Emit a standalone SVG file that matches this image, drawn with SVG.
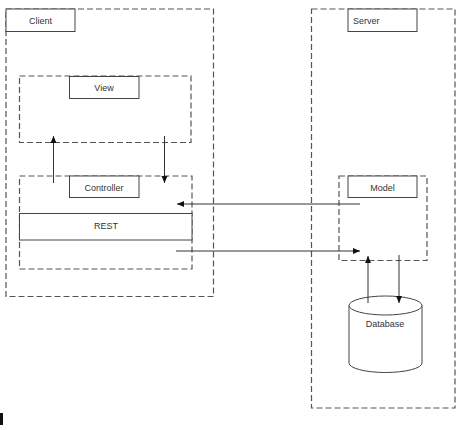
<svg xmlns="http://www.w3.org/2000/svg" width="474" height="430" viewBox="0 0 474 430">
<style>
.dash{fill:none;stroke:#555;stroke-width:1.2;stroke-dasharray:6,3}
.box{fill:#fff;stroke:#444;stroke-width:1}
.lbl{font-family:"Liberation Sans",Arial,sans-serif;font-size:9px;fill:#333;text-anchor:middle}
.con{stroke:#333;stroke-width:1;fill:none}
</style>
<defs>
<marker id="ah" markerWidth="8" markerHeight="8" refX="7" refY="4" orient="auto" markerUnits="userSpaceOnUse">
<path d="M0,1 L7,4 L0,7 Z" fill="#111"/>
</marker>
</defs>
<rect width="474" height="430" fill="#fff"/>
<g id="client">
<rect class="dash" x="6" y="9" width="207.5" height="287.5"/>
<rect class="box" x="6" y="9" width="69" height="22.5"/>
<text class="lbl" x="40.5" y="23.5">Client</text>
</g>
<g id="view">
<rect class="dash" x="19.5" y="76" width="171.5" height="66.5"/>
<rect class="box" x="69.5" y="76.5" width="69.5" height="22"/>
<text class="lbl" x="104" y="91">View</text>
</g>
<g id="controller">
<rect class="dash" x="19.5" y="176" width="172.5" height="93"/>
<rect class="box" x="69.5" y="176" width="69.5" height="21.5"/>
<text class="lbl" x="104" y="190.5">Controller</text>
</g>
<g id="rest">
<rect class="box" x="19.5" y="213.5" width="172.5" height="26.5"/>
<text class="lbl" x="106" y="229">REST</text>
</g>
<g id="server">
<rect class="dash" x="311.5" y="9" width="143.5" height="399"/>
<rect class="box" x="348" y="9" width="69" height="22.5"/>
<text class="lbl" x="371" y="23.5" style="text-anchor:start" dx="-18">Server</text>
</g>
<g id="model">
<rect class="dash" x="339" y="176" width="88" height="84.5"/>
<rect class="box" x="348" y="176" width="69" height="21.5"/>
<text class="lbl" x="382.5" y="190.5">Model</text>
</g>
<g id="database">
<path class="box" d="M349,305.5 L349,363 A36.5,9.5 0 0 0 422,363 L422,305.5"/>
<ellipse class="box" cx="385.5" cy="305.5" rx="36.5" ry="9.5"/>
<text class="lbl" x="385" y="327">Database</text>
</g>
<g id="connectors">
<line class="con" x1="53.5" y1="183" x2="53.5" y2="136" marker-end="url(#ah)"/>
<line class="con" x1="164.5" y1="136" x2="164.5" y2="183" marker-end="url(#ah)"/>
<line class="con" x1="360" y1="204" x2="177" y2="204" marker-end="url(#ah)"/>
<line class="con" x1="176" y1="251" x2="360" y2="251" marker-end="url(#ah)"/>
<line class="con" x1="368" y1="303" x2="368" y2="256" marker-end="url(#ah)"/>
<line class="con" x1="399" y1="255" x2="399" y2="303" marker-end="url(#ah)"/>
</g>
<rect x="0" y="413" width="3" height="12" fill="#111"/>
</svg>
